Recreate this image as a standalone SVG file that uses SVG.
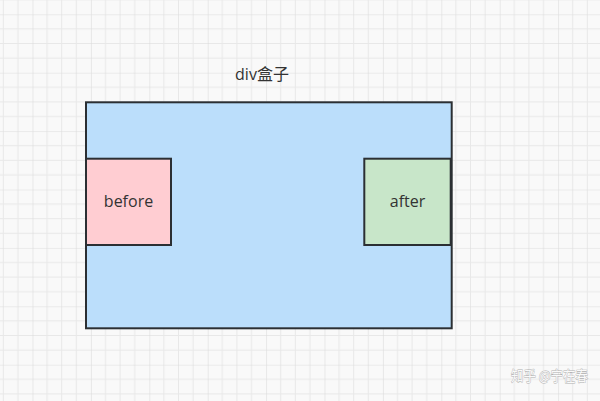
<svg xmlns="http://www.w3.org/2000/svg" width="600" height="401" viewBox="0 0 600 401">
<style>
.box{stroke:#2b2f33;stroke-width:2}
.lbl{font-family:"Open Sans","Noto Sans CJK SC",sans-serif;font-size:16px;fill:#333;text-anchor:middle;dominant-baseline:central}
.wm{font-family:"Noto Sans CJK SC",sans-serif;font-size:14px;fill:#fafafa;stroke:#b0b0b0;stroke-width:0.8;paint-order:stroke}
</style>
<defs>
<pattern id="grid" x="32.5" y="14.3" width="58.4" height="58.4" patternUnits="userSpaceOnUse">
<path d="M14.6 0V58.4M29.2 0V58.4M43.8 0V58.4M0 14.6H58.4M0 29.2H58.4M0 43.8H58.4" stroke="#e8e8e8" stroke-width="1" fill="none"/>
<path d="M0 0V58.4M0 0H58.4" stroke="#dcdcdc" stroke-width="1.2" fill="none"/>
</pattern>
</defs>
<rect width="600" height="401" fill="#f9f9f9"/>
<rect width="600" height="401" fill="url(#grid)"/>
<g id="div-box">
<rect class="box" x="86" y="102.3" width="365.7" height="226" fill="#bbdefb"/>
<text class="lbl" x="262" y="74">div盒子</text>
</g>
<g id="before">
<rect class="box" x="86" y="158.7" width="85" height="86.3" fill="#ffcdd2"/>
<text class="lbl" x="128.5" y="201">before</text>
</g>
<g id="after">
<rect class="box" x="364.3" y="158.7" width="86.4" height="86.3" fill="#c8e6c9"/>
<text class="lbl" x="407.5" y="201">after</text>
</g>
<g id="connectors"/>
<text class="wm" x="511" y="381" textLength="77" lengthAdjust="spacingAndGlyphs">知乎 @宁在春</text>
</svg>
